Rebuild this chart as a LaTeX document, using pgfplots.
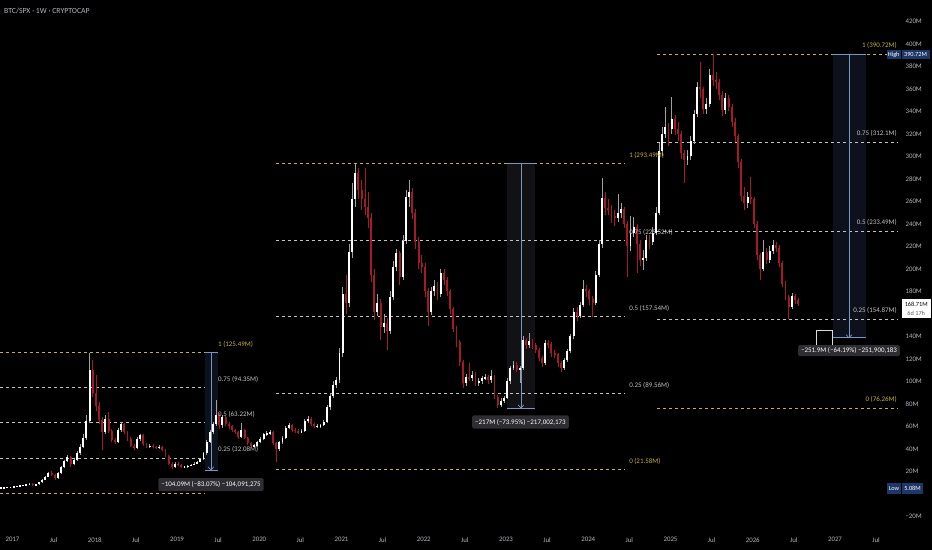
\documentclass[border=0pt]{standalone}
\usepackage{pgfplots}
\pgfplotsset{compat=1.18}
\usepackage{pgfplotstable}
\usepackage{fontspec}
\setmainfont{Carlito}
\definecolor{txtgray}{RGB}{178,181,190}
\definecolor{fibwhite}{RGB}{195,195,195}
\definecolor{fibyellow}{RGB}{201,178,42}
\definecolor{upwick}{RGB}{160,160,160}
\definecolor{downc}{RGB}{165,26,38}
\definecolor{measline}{RGB}{120,150,195}
\definecolor{shadeA}{RGB}{12,17,28}
\definecolor{shadeB}{RGB}{18,18,20}
\definecolor{boxgray}{RGB}{46,46,50}
\definecolor{hlblue}{RGB}{28,56,104}
\newcommand\tickfont{\fontsize{6.9}{8}\selectfont}
\newcommand\lblfont{\fontsize{7}{8}\selectfont}

% candles at two-week steps, values in millions
\pgfplotstableread{
o h l c
5.3 5.8 5.08 5.5
5.5 6.0 5.3 5.8
5.8 6.2 5.6 6.0
6.0 6.6 5.8 6.3
6.3 7.1 6.1 6.8
6.8 7.4 6.5 7.0
7.0 7.9 6.8 7.5
7.5 8.4 7.2 8.0
8.0 8.9 7.7 8.5
8.5 9.6 8.2 9.0
9.0 9.4 7.5 8.0
8.0 8.9 7.6 8.5
8.5 11.0 8.2 10.5
10.5 13.2 10.0 12.5
12.5 16.3 12.0 15.5
15.5 19.8 15.0 19
19 20 16 17
17 18 12 14
14 19.8 13.5 19
19 25 18 24
24 30 23 29
29 34.5 28 33
33 34 24 27
27 31.5 25.5 30
30 38 29 36.5
36.5 44 35 42
42 53 40.5 50
50 70 48 65
65 125.49 63 110
110 119 86 90
90 106 74 78
78 82 62 66
66 68 39 55
55 70 53 67
67 73 54 56
56 58 46 48
48 50 44 46
46 58.5 45 57
57 64 55 62
62 63 53 55
55 56 47 49
49 50.5 41.5 43
43 44 39.5 41
41 50.5 40 49
49 53.5 47.5 52
52 53 42.5 44
44 45 40.5 42
42 44.5 41 43
43 44 40.5 42
42 43 40 41
41 43.5 40 42
42 42.5 38 39
39 40 32.5 34
34 35 25.5 27
27 28 22.5 24
24 28 23 27
27 28 25 26
26 26.5 23 24
24 25 23 24
24 26 23.5 25
25 27 24.5 26
26 28 25.5 27
27 29.5 26.5 28.5
28.5 32 28 31
31 37.5 30 36
36 48 35 46
46 57 45 55
55 64 53 62
62 83.5 60 70
70 72 58 61
61 70 59 68
68 69 60 62
62 64 58 60
60 61.5 55 57
57 58 53 55
55 56 49 51
51 63 50 57
57 58 48.5 50
50 51 43.5 45
45 46 41.5 43
43 44.5 41.5 43
43 47.5 42 46
46 50.5 45 49
49 54.5 48 53
53 56 51.5 54
54 57 52.5 55
55 56 43.5 45
45 46.5 28.7 40
40 47.5 38 46
46 51.5 44.5 50
50 60.5 49 59
59 63 57.5 61
61 62 55.5 57
57 58.5 54.5 56
56 57.5 53.5 55
55 57.5 54 56
56 67 55 65
65 69 63 67
67 68 60.5 62
62 63.5 58.5 60
60 62 58.5 60
60 62.5 58.5 61
61 66 60 64
64 79 63 77
77 90 75 87
87 100 85 97
97 104 94 101
101 130 99 125
125 184 122 178
178 195 160 170
170 222 166 215
215 276 210 262
262 293.49 255 285
285 290 262 270
270 279 252 262
262 290 248 255
255 268 236 245
245 250 188 195
195 200 155 162
162 178 158 170
170 173 137 148
148 160 143 152
152 156 128 145
145 180 142 175
175 207 172 202
202 218 198 214
214 216 186 193
193 230 190 225
225 270 222 264
264 279 255 268
268 272 244 250
250 253 218 224
224 228 200 205
205 212 196 202
202 205 175 180
180 183 149 162
162 184 159 180
180 190 176 185
185 188 172 178
178 200 175 196
196 200 186 190
190 193 176 180
180 182 160 164
164 166 144 147
147 149 131 135
135 137 114 117
117 119 94 99
99 107 96 104
104 116 100 103
103 109 100 106
106 108 96 99
99 103 96 100
100 105 98 103
103 107 101 104
104 106 98 101
101 110 99 105
105 106 84 86
86 88 76.26 79
79 85 77 83
83 87 81 85
85 103 84 100
100 114 98 112
112 118 110 115
115 117 108 110
110 114 99 112
112 140 110 137
137 139 129 132
132 143 130 136
136 138 129 132
132 134 125 128
128 130 118 121
121 123 113 116
116 137 115 134
134 137 130 133
133 135 122 125
125 128 121 124
124 125 113 116
116 118 108.7 112
112 121 110 119
119 129 117 127
127 142 125 140
140 165 138 162
162 166 154 158
158 171 156 168
168 190 166 182
182 186 175 180
180 182 168 173
173 176 157.6 170
170 198 168 195
195 226 193 222
222 281 219 263
263 268 248 254
254 262 248 253
253 257 241 247
247 252 238 245
245 267 242 250
250 259 245 253
253 255 236 240
240 243 193 220
220 247 216 232
232 246.5 228 237
237 240 196 222
222 226 203 208
208 217 199 210
210 230 207 226
226 230 218 224
224 237 221 232
232 255 230 250
250 312 248 305
305 326 300 320
320 344 316 326
326 330 309 324
324 353 320 333
333 337 319 324
324 331 314 320
320 323 298 303
303 306 276 297
297 306 292 300
300 318 297 314
314 341 311 338
338 366 335 362
362 384 352 360
360 362 338 342
342 352 338 347
347 378 344 372
372 390.72 363 368
368 375 360 366
366 369 350 355
355 358 336 341
341 356 338 352
352 355 340 344
344 347 326 331
331 334 313 318
318 320 290 295
295 298 260 265
265 273 252 259
259 268 254 264
264 282 258 262
262 264 236 240
240 243 208 212
212 214 190 200
200 226 198 215
215 219 204 208
208 220 205 216
216 226 213 221
221 224 215 219
219 221 202 205
205 207 184 187
187 189 172 175
175 177 155.5 166
166 179 164 176
176 178 169 172
172 174 167 168.71
}\candles

\begin{document}
\begin{tikzpicture}
\fill[black] (0,0) rectangle (932bp,550bp);
\useasboundingbox (0,0) rectangle (932bp,550bp);
\begin{axis}[
  at={(0bp,20bp)}, anchor=south west, scale only axis,
  width=898bp, height=530bp,
  xmin=2016.848, xmax=2027.766, ymin=-32, ymax=439.1,
  axis line style={draw=none}, major tick length=0pt,
  clip=false,
  xtick={2017,2017.5,2018,2018.5,2019,2019.5,2020,2020.5,2021,2021.5,2022,2022.5,2023,2023.5,2024,2024.5,2025,2025.5,2026,2026.5,2027,2027.5},
  xticklabels={2017,Jul,2018,Jul,2019,Jul,2020,Jul,2021,Jul,2022,Jul,2023,Jul,2024,Jul,2025,Jul,2026,Jul,2027,Jul},
  x tick label style={font=\tickfont, text=txtgray, yshift=-4bp},
  ytick={-20,20,40,60,80,100,120,140,180,200,220,240,260,280,300,320,340,360,380,400,420},
  yticklabels={−20M,20M,40M,60M,80M,100M,120M,140M,180M,200M,220M,240M,260M,280M,300M,320M,340M,360M,380M,400M,420M},
  yticklabel pos=right,
  y tick label style={font=\tickfont, text=txtgray, xshift=4bp},
]
% measurement shading
\fill[shadeA] (2019.340,21.4) rectangle (2019.498,125.49);
\fill[shadeB] (2023.012,76.49) rectangle (2023.353,293.49);
\fill[shadeA] (2026.976,138.82) rectangle (2027.377,390.72);

\begin{scope}[line width=0.8bp, dash pattern=on 3bp off 3bp]
% fib set 1
\draw[fibyellow] (2016.848,125.49) -- (2019.340,125.49);
\draw[fibwhite] (2016.848,94.35) -- (2019.340,94.35);
\draw[fibwhite] (2016.848,63.22) -- (2019.340,63.22);
\draw[fibwhite] (2016.848,32.08) -- (2019.340,32.08);
\draw[fibyellow] (2016.848,0.94) -- (2019.340,0.94);
% fib set 2
\draw[fibyellow] (2020.204,293.49) -- (2024.447,293.49);
\draw[fibwhite] (2020.204,225.52) -- (2024.447,225.52);
\draw[fibwhite] (2020.204,157.54) -- (2024.447,157.54);
\draw[fibwhite] (2020.204,89.56) -- (2024.447,89.56);
\draw[fibyellow] (2020.204,21.58) -- (2024.447,21.58);
% fib set 3
\draw[fibyellow] (2024.836,390.72) -- (2027.766,390.72);
\draw[fibwhite] (2024.836,312.1) -- (2027.766,312.1);
\draw[fibwhite] (2024.836,233.49) -- (2027.766,233.49);
\draw[fibwhite] (2024.836,154.87) -- (2027.766,154.87);
\draw[fibyellow] (2024.836,76.26) -- (2027.766,76.26);
\end{scope}

% wicks
\addplot[draw=none, mark=none, forget plot, error bars/.cd, y dir=both, y explicit, error mark=none,
  error bar style={draw=upwick, line width=0.5bp, solid}]
  table[x expr=2016.8602+\coordindex/26,
        y expr={(\thisrow{c}>=\thisrow{o}) ? (\thisrow{h}+\thisrow{l})/2 : nan},
        y error expr={(\thisrow{h}-\thisrow{l})/2}] {\candles};
\addplot[draw=none, mark=none, forget plot, error bars/.cd, y dir=both, y explicit, error mark=none,
  error bar style={draw=downc, line width=0.5bp, solid}]
  table[x expr=2016.8602+\coordindex/26,
        y expr={(\thisrow{c}<\thisrow{o}) ? (\thisrow{h}+\thisrow{l})/2 : nan},
        y error expr={(\thisrow{h}-\thisrow{l})/2}] {\candles};
% bodies
\addplot[draw=none, mark=none, forget plot, error bars/.cd, y dir=both, y explicit, error mark=none,
  error bar style={draw=white, line width=1.9bp, solid}]
  table[x expr=2016.8602+\coordindex/26,
        y expr={(\thisrow{c}>=\thisrow{o}) ? (\thisrow{o}+\thisrow{c})/2 : nan},
        y error expr={max(abs(\thisrow{c}-\thisrow{o})/2,0.5)}] {\candles};
\addplot[draw=none, mark=none, forget plot, error bars/.cd, y dir=both, y explicit, error mark=none,
  error bar style={draw=downc, line width=1.9bp, solid}]
  table[x expr=2016.8602+\coordindex/26,
        y expr={(\thisrow{c}<\thisrow{o}) ? (\thisrow{o}+\thisrow{c})/2 : nan},
        y error expr={max(abs(\thisrow{c}-\thisrow{o})/2,0.5)}] {\candles};

% measurement lines
\begin{scope}[measline, line width=0.7bp]
\draw (2019.340,125.49) -- (2019.498,125.49);
\draw (2019.340,21.4) -- (2019.498,21.4);
\draw (2019.413,125.49) -- (2019.413,21.4);
\draw (2019.377,24.2) -- (2019.413,21.4) -- (2019.449,24.2);
\draw (2023.012,293.49) -- (2023.353,293.49);
\draw (2023.012,76.49) -- (2023.353,76.49);
\draw (2023.182,293.49) -- (2023.182,76.49);
\draw (2023.146,79.3) -- (2023.182,76.49) -- (2023.218,79.3);
\draw (2026.976,390.72) -- (2027.377,390.72);
\draw (2026.976,138.82) -- (2027.377,138.82);
\draw (2027.170,390.72) -- (2027.170,138.82);
\draw (2027.134,141.6) -- (2027.170,138.82) -- (2027.206,141.6);
\end{scope}
\draw[white!85!black, line width=0.6bp] (2026.770,130.7) rectangle (2026.964,145.8);

% fib labels
\begin{scope}[every node/.style={font=\lblfont, inner sep=0pt}]
\node[anchor=west, text=fibyellow] at (2019.498,132.5) {1 (125.49M)};
\node[anchor=west, text=fibwhite] at (2019.498,101.4) {0.75 (94.35M)};
\node[anchor=west, text=fibwhite] at (2019.498,70.3) {0.5 (63.22M)};
\node[anchor=west, text=fibwhite] at (2019.498,39.2) {0.25 (32.08M)};
\node[anchor=west, text=fibyellow] at (2024.496,300.6) {1 (293.49M)};
\node[anchor=west, text=fibwhite] at (2024.496,232.6) {0.75 (225.52M)};
\node[anchor=west, text=fibwhite] at (2024.496,164.6) {0.5 (157.54M)};
\node[anchor=west, text=fibwhite] at (2024.496,96.6) {0.25 (89.56M)};
\node[anchor=west, text=fibyellow] at (2024.496,28.6) {0 (21.58M)};
\node[anchor=east, text=fibyellow] at (2027.754,398.9) {1 (390.72M)};
\node[anchor=east, text=fibwhite] at (2027.754,320.3) {0.75 (312.1M)};
\node[anchor=east, text=fibwhite] at (2027.754,241.6) {0.5 (233.49M)};
\node[anchor=east, text=fibwhite] at (2027.754,162.9) {0.25 (154.87M)};
\node[anchor=east, text=fibyellow] at (2027.754,84.3) {0 (76.26M)};
\node[anchor=west, text=txtgray, font=\fontsize{7.8}{9}\selectfont] at (2016.897,429.3) {BTC/SPX · 1W · CRYPTOCAP};
\end{scope}

% measurement labels
\begin{scope}[every node/.style={font=\lblfont, text=white, fill=boxgray, rounded corners=1.5bp, inner xsep=3bp, inner ysep=3.5bp}]
\node at (2019.413,8.3) {−104.09M (−83.07\%) −104,091,275};
\node at (2023.176,64.0) {−217M (−73.95\%) −217,002,173};
\node[inner ysep=2.5bp] at (2027.170,127.4) {−251.9M (−64.19\%) −251,900,183};
\end{scope}
\end{axis}

% right-side price tags
\begin{scope}[every node/.style={font=\fontsize{6.3}{7}\selectfont, inner sep=0pt, text=white}]
\node[fill=hlblue, minimum width=14bp, minimum height=9.5bp] at (893.7bp,495.5bp) {High};
\node[fill=hlblue, minimum width=28bp, minimum height=9.5bp] at (915.5bp,495.5bp) {390.72M};
\node[fill=hlblue, minimum width=13.4bp, minimum height=10.7bp] at (894bp,61.3bp) {Low};
\node[fill=hlblue, minimum width=21.6bp, minimum height=10.7bp] at (912.5bp,61.3bp) {5.08M};
\fill[white] (901.7bp,231.7bp) rectangle (930.7bp,250.7bp);
\node[text=black] at (916.2bp,245.7bp) {168.71M};
\node[text=black!65] at (916.2bp,236.3bp) {6d 17h};
\end{scope}
\end{tikzpicture}
\end{document}
